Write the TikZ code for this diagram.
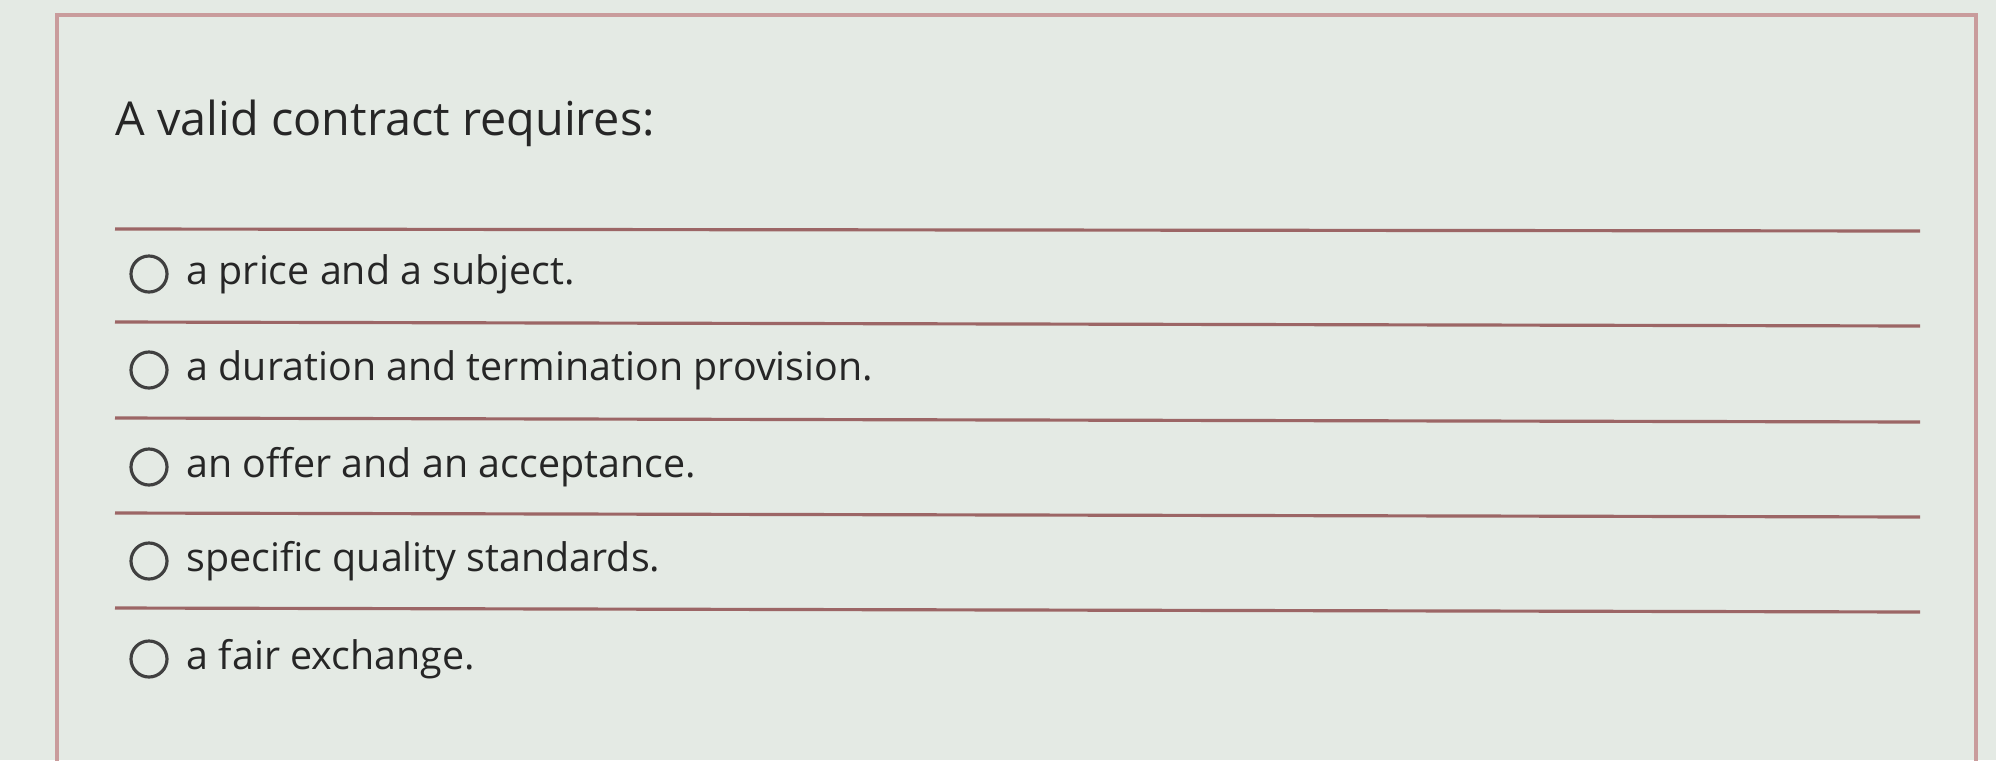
\documentclass[tikz,border=0pt]{standalone}
\usepackage{fontspec}
\setmainfont{Open Sans}
\begin{document}
\begin{tikzpicture}[x=0.01cm,y=-0.01cm,
  rule/.style={draw=red!35!black!60!white,line width=0.9pt},
  opt/.style={anchor=west,inner sep=0pt,font=\fontsize{11.2}{13}\selectfont,text=black!85},
  radio/.style={draw=black!75,line width=0.9pt,circle,minimum size=0.36cm,inner sep=0pt}]
\fill[gray!12!green!3!white!92!black] (0,0) rectangle (1996,760);
\useasboundingbox (0,0) rectangle (1996,760);
\draw[draw=red!30!gray!60!white,line width=1pt] (57,800) -- (57,15) -- (1976,15) -- (1976,800);
\node[opt,font=\fontsize{13.3}{16}\selectfont] (title) at (115,123) {A valid contract requires:};
\foreach \y/\z [count=\i] in {229/231,322/326,418/422,513/517,608/612}{
  \coordinate (l\i a) at (115,\y); \coordinate (l\i b) at (1920,\z);
  \draw[rule] (l\i a) -- (l\i b);}
\foreach \y/\t [count=\i] in {274/a price and a subject.,370/a duration and termination provision.,467/an offer and an acceptance.,561/specific quality standards.,659/a fair exchange.}{
  \node[radio] (r\i) at (149,\y) {};
  \node[opt] (o\i) at (186,\y) {\t};}
\end{tikzpicture}
\end{document}
